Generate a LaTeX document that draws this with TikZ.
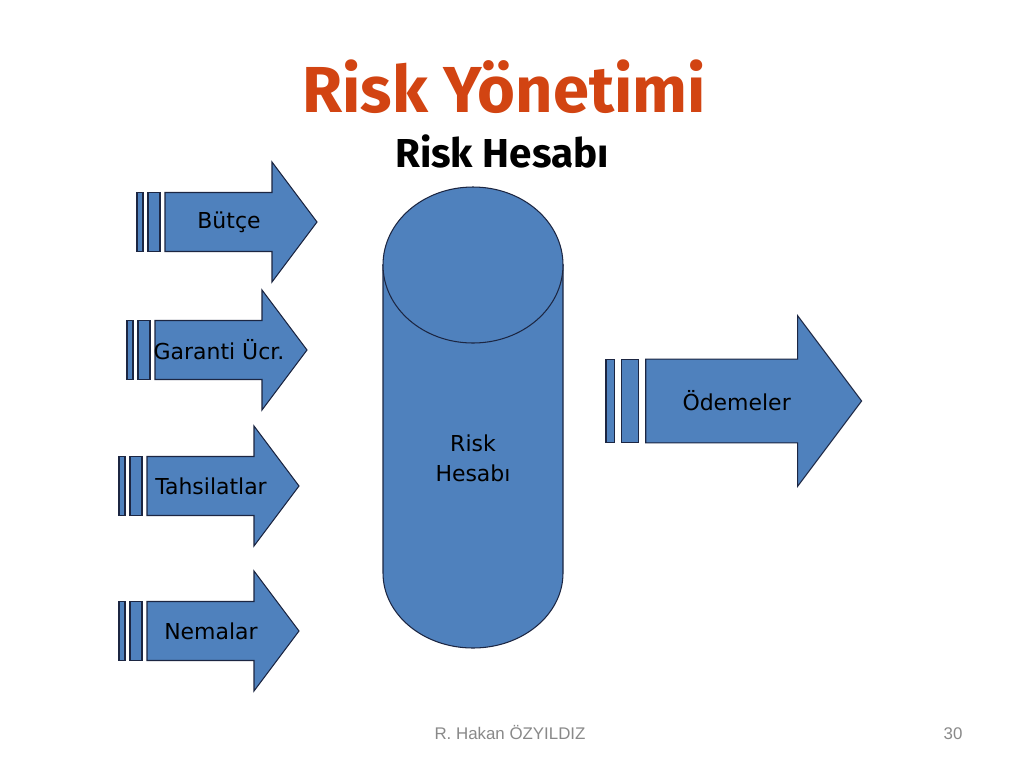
\documentclass[tikz,border=0pt]{standalone}
\usepackage{fontspec}
\setmainfont{DejaVu Sans}
\newfontfamily\baslikfont{Fira Sans}
\newfontfamily\altfont{Liberation Sans}
\definecolor{riskmavi}{RGB}{79,129,189}
\definecolor{riskcizgi}{RGB}{28,38,66}
\definecolor{riskturuncu}{RGB}{210,68,18}
\definecolor{riskgri}{RGB}{137,137,137}
\newcommand{\seritliok}[5]{%
	\begin{scope}[shift={(#1,#2)},scale=#3]
		\draw[blok] (0,-29.5) rectangle (6,29.5);
		\draw[blok] (11,-29.5) rectangle (23,29.5);
		\draw[blok] (28,-29.5) -- (135,-29.5) -- (135,-60) -- (180,0) -- (135,60) -- (135,29.5) -- (28,29.5) -- cycle;
		\node[etiket] (#4) at (92,0) {#5};
	\end{scope}}
\begin{document}
\begin{tikzpicture}[x=0.02cm,y=-0.02cm,
	blok/.style={fill=riskmavi,draw=riskcizgi,line width=0.6pt,line join=miter},
	etiket/.style={font=\fontsize{12.5}{17}\selectfont,text=black,inner sep=0pt},
	dipnot/.style={font=\altfont\fontsize{9.6}{11}\selectfont,text=riskgri,anchor=base}]
		\useasboundingbox[fill=white] (0,0) rectangle (1024,768);
		\node[font=\baslikfont\bfseries\fontsize{37}{42}\selectfont,text=riskturuncu] (baslik) at (504,87) {Risk Yönetimi};
		\node[font=\baslikfont\bfseries\fontsize{23}{26}\selectfont] (altbaslik) at (502,151) {Risk Hesabı};
		\seritliok{137}{222}{1}{butce}{Bütçe}
		\seritliok{127}{350}{1}{garanti}{Garanti Ücr.}
		\seritliok{119}{486}{1}{tahsilat}{Tahsilatlar}
		\seritliok{119}{631}{1}{nema}{Nemalar}
		\seritliok{606}{401}{1.42}{odeme}{Ödemeler}
		\draw[blok] (383,265) -- (383,573) arc[start angle=180,end angle=0,x radius=90,y radius=75] -- (563,265) -- cycle;
		\draw[blok] (473,265) ellipse [x radius=90,y radius=78];
		\node[etiket,align=center] (hesap) at (473,458) {Risk\\Hesabı};
		\node[dipnot] (yazar) at (510,739) {R. Hakan ÖZYILDIZ};
		\node[dipnot] (sayfa) at (953,739) {30};
\end{tikzpicture}
\end{document}
